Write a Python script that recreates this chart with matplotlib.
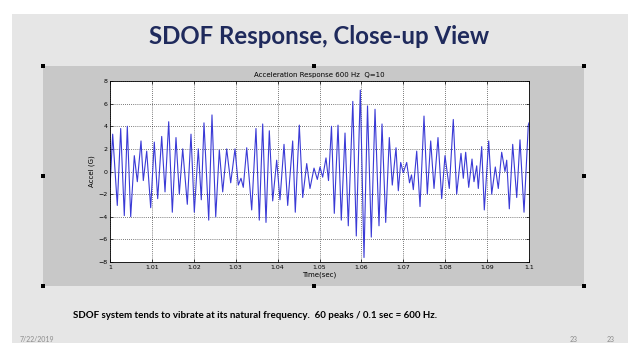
import numpy as np
import matplotlib
matplotlib.use('Agg')
import matplotlib.pyplot as plt
from matplotlib.patches import Rectangle

# extrema of the response: time after 1.0 s (ms), accel (G)
t_ms = [0.00, 0.64, 1.74, 2.55, 3.41, 4.13, 4.94, 5.80, 6.52, 7.40,
        7.95, 8.76, 9.71, 10.57, 11.38, 12.34, 13.13, 14.01, 14.87, 15.75,
        16.54, 17.35, 18.45, 19.33, 20.12, 21.07, 21.79, 22.43, 23.56, 24.34,
        25.23, 26.09, 26.90, 27.85, 28.81, 29.83, 30.62, 31.26, 31.81, 32.63,
        33.82, 34.84, 35.63, 36.44, 37.23, 38.02, 38.83, 39.78, 40.57, 41.53,
        42.41, 43.60, 44.22, 45.18, 45.99, 46.95, 47.73, 48.69, 49.48, 50.12,
        50.76, 51.55, 52.15, 52.86, 53.53, 54.42, 55.20, 56.09, 56.87, 57.95,
        58.78, 59.74, 60.62, 61.46, 62.36, 63.25, 64.20, 64.92, 65.80, 66.66,
        67.37, 68.26, 68.81, 69.38, 70.00, 70.81, 71.48, 71.96, 72.39, 73.20,
        73.99, 74.94, 75.73, 76.54, 77.33, 78.28, 79.16, 79.95, 80.98, 81.93,
        82.74, 83.77, 84.32, 84.89, 85.61, 86.40, 86.87, 87.52, 87.90, 88.71,
        89.33, 90.38, 91.10, 91.96, 92.67, 93.48, 94.27, 94.68, 95.30, 96.11,
        97.07, 97.85, 98.81, 99.83, 100.0]
accel = [-1.4, 3.3, -3.0, 3.8, -3.9, 4.0, -4.0, 1.4, -0.9, 2.7,
         -0.8, 1.8, -3.2, 2.6, -2.4, 3.1, -1.8, 4.4, -3.6, 3.0,
         -2.0, 2.0, -2.9, 3.3, -3.6, 2.0, -2.5, 4.3, -4.3, 5.0,
         -4.0, 1.9, -1.8, 2.0, -1.0, 2.0, -1.2, -0.6, -1.4, 2.1,
         -3.4, 3.8, -4.3, 4.2, -4.5, 3.6, -2.6, 1.0, -2.5, 2.4,
         -3.0, 2.7, -3.6, 4.1, -2.3, 0.7, -1.5, 0.3, -0.7, 0.4,
         -0.5, 1.2, -0.8, 4.0, -3.7, 4.1, -4.3, 3.4, -4.8, 6.2,
         -5.7, 7.2, -7.6, 5.8, -5.8, 5.5, -4.8, 4.2, -4.5, 3.0,
         -1.2, 2.1, -1.7, 0.8, -0.1, 0.8, -1.0, -0.3, -1.6, 1.8,
         -3.1, 4.9, -2.0, 2.7, -1.5, 3.0, -2.4, 1.4, -1.5, 4.6,
         -2.0, 1.6, -0.6, 1.7, -1.4, 1.1, -0.9, 0.5, -1.5, 2.2,
         -3.4, 2.7, -2.0, 0.4, -1.5, 1.7, 0.0, 1.0, -3.3, 2.4,
         -2.3, 2.8, -3.6, 4.1, 4.3]

xticks = [1, 1.01, 1.02, 1.03, 1.04, 1.05, 1.06, 1.07, 1.08, 1.09, 1.1]
xticklabels = ['1', '1.01', '1.02', '1.03', '1.04', '1.05', '1.06', '1.07', '1.08', '1.09', '1.1']
yticks = [-8, -6, -4, -2, 0, 2, 4, 6, 8]

W, H = 638, 359
fig = plt.figure(figsize=(W / 100, H / 100), dpi=100)
fig.patch.set_facecolor('white')


def box(x0, y0, x1, y1, color, z=0):
    # rectangle given in pixel coords measured from the top left
    r = Rectangle((x0 / W, 1 - y1 / H), (x1 - x0) / W, (y1 - y0) / H,
                  transform=fig.transFigure, facecolor=color, edgecolor='none', zorder=z)
    fig.patches.append(r)


# slide background and the embedded figure
box(12, 14, 628, 343, '#e6e6e6')
box(43, 66, 584, 286, '#c8c8c8', z=1)
for hx in [43, 313.5, 584]:
    for hy in [66, 176, 286]:
        if hx == 313.5 and hy == 176:
            continue
        box(hx - 2, hy - 2, hx + 2, hy + 2, 'black', z=2)

fig.text(319 / W, 1 - 36 / H, 'SDOF Response, Close-up View', ha='center', va='center',
         fontsize=17.3, fontweight='bold', color='#1f2a5c', family='Lato')

ax = fig.add_axes([110 / W, 1 - 262 / H, 419 / W, 181 / H])
ax.set_zorder(5)
ax.set_facecolor('white')
t = 1 + np.array(t_ms) / 1000.0
ax.plot(t, accel, color='#3a3ad6', lw=0.8)
ax.set_xlim(1, 1.1)
ax.set_ylim(-8, 8)
ax.set_xticks(xticks)
ax.set_xticklabels(xticklabels)
ax.set_yticks(yticks)
ax.tick_params(labelsize=4.5, length=2, width=0.5, direction='in', pad=2, top=True, right=True)
ax.grid(True, color='black', linestyle=(0, (1, 2)), linewidth=0.5)
for s in ax.spines.values():
    s.set_linewidth(0.6)
ax.set_title('Acceleration Response 600 Hz  Q=10', fontsize=5, pad=3)
ax.set_xlabel('Time(sec)', fontsize=5, labelpad=1)
ax.set_ylabel('Accel (G)', fontsize=5, labelpad=2)

fig.text(73 / W, 1 - 315 / H,
         'SDOF system tends to vibrate at its natural frequency.  60 peaks / 0.1 sec = 600 Hz.',
         ha='left', va='center', fontsize=7, fontweight='bold', color='black', family='Lato')
fig.text(20 / W, 1 - 339 / H, '7/22/2019', ha='left', va='center', fontsize=5,
         color='#8c8c8c', family='Lato')
fig.text(574 / W, 1 - 340 / H, '23', ha='center', va='center', fontsize=5,
         color='#8c8c8c', family='Lato')
fig.text(611 / W, 1 - 339 / H, '23', ha='center', va='center', fontsize=5,
         color='#8c8c8c', family='Lato')

fig.savefig('out.png', dpi=100)
